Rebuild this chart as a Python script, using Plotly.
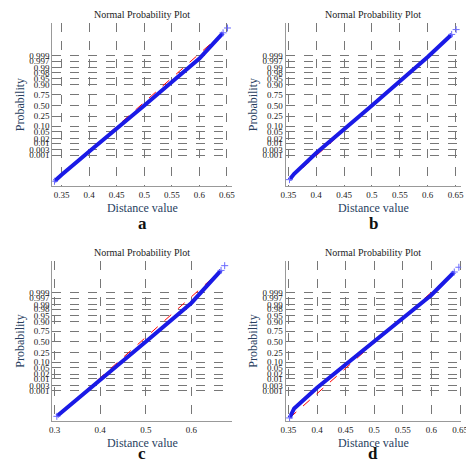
import plotly.graph_objects as go

# probability tick labels and their normal quantiles (z)
prob_labels = ["0.001", "0.003", "0.01", "0.02", "0.05", "0.10", "0.25", "0.50",
               "0.75", "0.90", "0.95", "0.98", "0.99", "0.997", "0.999"]
prob_z = [-3.09, -2.75, -2.33, -2.05, -1.645, -1.28, -0.674, 0.0,
          0.674, 1.28, 1.645, 2.05, 2.33, 2.75, 3.09]

# points (distance value, z)
a_x = [0.337, 0.35, 0.40, 0.45, 0.50, 0.55, 0.60, 0.643]
a_z = [-4.7, -4.3, -2.85, -1.45, 0.0, 1.45, 2.9, 4.5]
b_x = [0.352, 0.36, 0.40, 0.45, 0.50, 0.55, 0.60, 0.643]
b_z = [-4.6, -4.25, -2.95, -1.5, 0.0, 1.5, 3.0, 4.4]
c_x = [0.305, 0.33, 0.40, 0.50, 0.60, 0.665]
c_z = [-4.7, -4.1, -2.45, 0.0, 2.45, 4.5]
d_x = [0.352, 0.36, 0.40, 0.45, 0.50, 0.55, 0.60, 0.64]
d_z = [-4.8, -4.2, -2.9, -1.45, 0.0, 1.5, 2.95, 4.4]

panels = [
    (a_x, a_z, [0.333, 0.66], [0.35, 0.4, 0.45, 0.5, 0.55, 0.6, 0.65], "a"),
    (b_x, b_z, [0.345, 0.66], [0.35, 0.4, 0.45, 0.5, 0.55, 0.6, 0.65], "b"),
    (c_x, c_z, [0.295, 0.69], [0.3, 0.4, 0.5, 0.6, 0.7], "c"),
    (d_x, d_z, [0.345, 0.652], [0.35, 0.4, 0.45, 0.5, 0.55, 0.6, 0.65], "d"),
]
doms = [([0.085, 0.475], [0.612, 0.967]), ([0.59, 0.97], [0.612, 0.967]),
        ([0.085, 0.475], [0.10, 0.449]), ([0.59, 0.97], [0.10, 0.449])]
label_y = [0.53, 0.53, 0.03, 0.03]

fig = go.Figure()
font = "Liberation Serif, Times New Roman, serif"
for i, ((xs, zs, xr, xt, lab), (dx, dy)) in enumerate(zip(panels, doms)):
    n = "" if i == 0 else str(i + 1)
    fig.add_trace(go.Scatter(x=[xs[0], xs[-1]], y=[zs[0], zs[-1]], mode="lines",
                             line=dict(color="red", width=1, dash="dash"),
                             xaxis="x" + n, yaxis="y" + n, showlegend=False))
    fig.add_trace(go.Scatter(x=xs, y=zs, mode="lines",
                             line=dict(color="#1a1ae6", width=4),
                             xaxis="x" + n, yaxis="y" + n, showlegend=False))
    fig.add_trace(go.Scatter(x=[xs[0], xs[-1], xs[-1] + 0.008], y=[zs[0], zs[-1], zs[-1] + 0.3],
                             mode="markers",
                             marker=dict(symbol="cross-thin", size=5, line=dict(color="#6a6aff", width=1)),
                             xaxis="x" + n, yaxis="y" + n, showlegend=False))
    grid = dict(showgrid=True, gridcolor="#777", griddash="dash", gridwidth=1,
                showline=True, linecolor="#999", zeroline=False, ticks="",
                tickfont=dict(size=9, family=font, color="#222"))
    fig.layout["xaxis" + n] = dict(domain=dx, anchor="y" + n, range=xr, tickvals=xt,
                                   title=dict(text="Distance value", font=dict(size=12, family=font), standoff=4),
                                   **grid)
    fig.layout["yaxis" + n] = dict(domain=dy, anchor="x" + n, range=[-5, 5.1],
                                   tickvals=prob_z, ticktext=prob_labels,
                                   title=dict(text="Probability", font=dict(size=12, family=font), standoff=2),
                                   **grid)
    fig.add_annotation(text="Normal Probability Plot", xref="paper", yref="paper",
                       x=(dx[0] + dx[1]) / 2, xanchor="center", y=dy[1] + 0.003, yanchor="bottom",
                       showarrow=False, font=dict(size=10, family=font, color="#222"))
    fig.add_annotation(text="<b>%s</b>" % lab, xref="paper", yref="paper",
                       x=(dx[0] + dx[1]) / 2, xanchor="center", y=label_y[i], yanchor="middle",
                       showarrow=False, font=dict(size=17, family=font, color="#111"))

fig.update_layout(width=474, height=459, margin=dict(l=0, r=0, t=0, b=0),
                  plot_bgcolor="white", paper_bgcolor="white")
fig.write_html("out.html")
